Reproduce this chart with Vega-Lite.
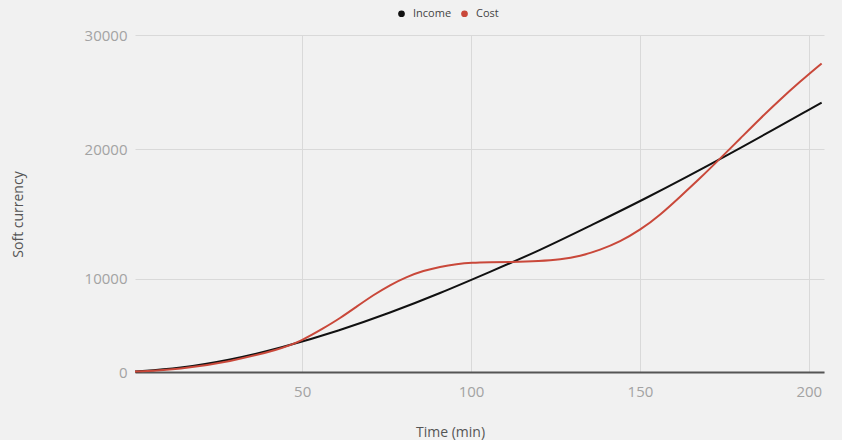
{
  "$schema": "https://vega.github.io/schema/vega-lite/v6.json",
  "description": "Income vs cost of soft currency over play time.",
  "autosize": "none",
  "padding": {"left": 135, "top": 35, "right": 18, "bottom": 68},
  "width": 689,
  "height": 337,
  "background": "#f1f1f1",
  "data": {
    "values": [
      {"t": 0.5, "series": "Income", "v": 50},
      {"t": 13.8, "series": "Income", "v": 390},
      {"t": 28.6, "series": "Income", "v": 1273},
      {"t": 43.4, "series": "Income", "v": 2529},
      {"t": 61.2, "series": "Income", "v": 4454},
      {"t": 76, "series": "Income", "v": 6326},
      {"t": 90.8, "series": "Income", "v": 8412},
      {"t": 105.6, "series": "Income", "v": 10514},
      {"t": 120.4, "series": "Income", "v": 12177},
      {"t": 135.2, "series": "Income", "v": 14072},
      {"t": 150.1, "series": "Income", "v": 15967},
      {"t": 175.3, "series": "Income", "v": 19420},
      {"t": 203.8, "series": "Income", "v": 24082},
      {"t": 0.5, "series": "Cost", "v": 50},
      {"t": 13.8, "series": "Cost", "v": 289},
      {"t": 28.6, "series": "Cost", "v": 1102},
      {"t": 43.4, "series": "Cost", "v": 2428},
      {"t": 49.9, "series": "Cost", "v": 3348},
      {"t": 56.3, "series": "Cost", "v": 4674},
      {"t": 61.2, "series": "Cost", "v": 5743},
      {"t": 66.1, "series": "Cost", "v": 6984},
      {"t": 71.1, "series": "Cost", "v": 8235},
      {"t": 76, "series": "Cost", "v": 9305},
      {"t": 81, "series": "Cost", "v": 10139},
      {"t": 85.9, "series": "Cost", "v": 10603},
      {"t": 90.8, "series": "Cost", "v": 10913},
      {"t": 95.8, "series": "Cost", "v": 11121},
      {"t": 100.2, "series": "Cost", "v": 11222},
      {"t": 105.6, "series": "Cost", "v": 11253},
      {"t": 111.5, "series": "Cost", "v": 11276},
      {"t": 120.4, "series": "Cost", "v": 11353},
      {"t": 126.4, "series": "Cost", "v": 11469},
      {"t": 132.3, "series": "Cost", "v": 11725},
      {"t": 138.2, "series": "Cost", "v": 12204},
      {"t": 144.1, "series": "Cost", "v": 12846},
      {"t": 150.1, "series": "Cost", "v": 13751},
      {"t": 156, "series": "Cost", "v": 14911},
      {"t": 161.9, "series": "Cost", "v": 16326},
      {"t": 167.8, "series": "Cost", "v": 17749},
      {"t": 173.8, "series": "Cost", "v": 19296},
      {"t": 179.7, "series": "Cost", "v": 20935},
      {"t": 185.6, "series": "Cost", "v": 22683},
      {"t": 191.5, "series": "Cost", "v": 24344},
      {"t": 197.4, "series": "Cost", "v": 25917},
      {"t": 203.8, "series": "Cost", "v": 27509}
    ]
  },
  "mark": {"type": "line", "interpolate": "basis", "strokeWidth": 2},
  "encoding": {
    "x": {
      "field": "t",
      "type": "quantitative",
      "scale": {"domain": [0.5, 204.5], "nice": false, "zero": false},
      "axis": {
        "values": [50, 100, 150, 200],
        "title": "Time (min)",
        "titleX": 315,
        "titleY": 60,
        "titleBaseline": "middle",
        "titleAlign": "center",
        "domainColor": "#555555",
        "domainWidth": 2,
        "ticks": false,
        "labelPadding": 12
      }
    },
    "y": {
      "field": "v",
      "type": "quantitative",
      "scale": {
        "domain": [0, 10000, 20000, 30000],
        "range": [337, 243.5, 114.2, 0],
        "nice": false,
        "zero": false
      },
      "axis": {
        "values": [0, 10000, 20000, 30000],
        "format": "d",
        "title": "Soft currency",
        "titleX": -117,
        "titleY": 179,
        "titleBaseline": "middle",
        "titleAlign": "center",
        "domain": false,
        "ticks": false,
        "labelPadding": 8
      }
    },
    "color": {
      "field": "series",
      "type": "nominal",
      "sort": ["Income", "Cost"],
      "scale": {"domain": ["Income", "Cost"], "range": ["#111111", "#c9483a"]},
      "legend": {
        "title": null,
        "orient": "none",
        "direction": "horizontal",
        "legendX": 261,
        "legendY": -27,
        "symbolType": "circle",
        "symbolSize": 45,
        "symbolStrokeWidth": 0,
        "labelOffset": 6,
        "columnPadding": 7,
        "labelFontSize": 11,
        "labelColor": "#444444",
        "labelFont": "Open Sans",
        "encode": {
          "symbols": {
            "update": {
              "fill": {"scale": "color", "field": "value"},
              "fillOpacity": {"value": 1}
            }
          }
        }
      }
    }
  },
  "config": {
    "view": {"stroke": null},
    "font": "Open Sans",
    "axis": {
      "labelFont": "Open Sans",
      "labelFontSize": 15,
      "labelColor": "#a3a3a3",
      "titleFont": "Open Sans",
      "titleFontSize": 14,
      "titleFontWeight": "normal",
      "titleColor": "#555555",
      "gridColor": "#d9d9d9",
      "gridWidth": 1
    }
  }
}
